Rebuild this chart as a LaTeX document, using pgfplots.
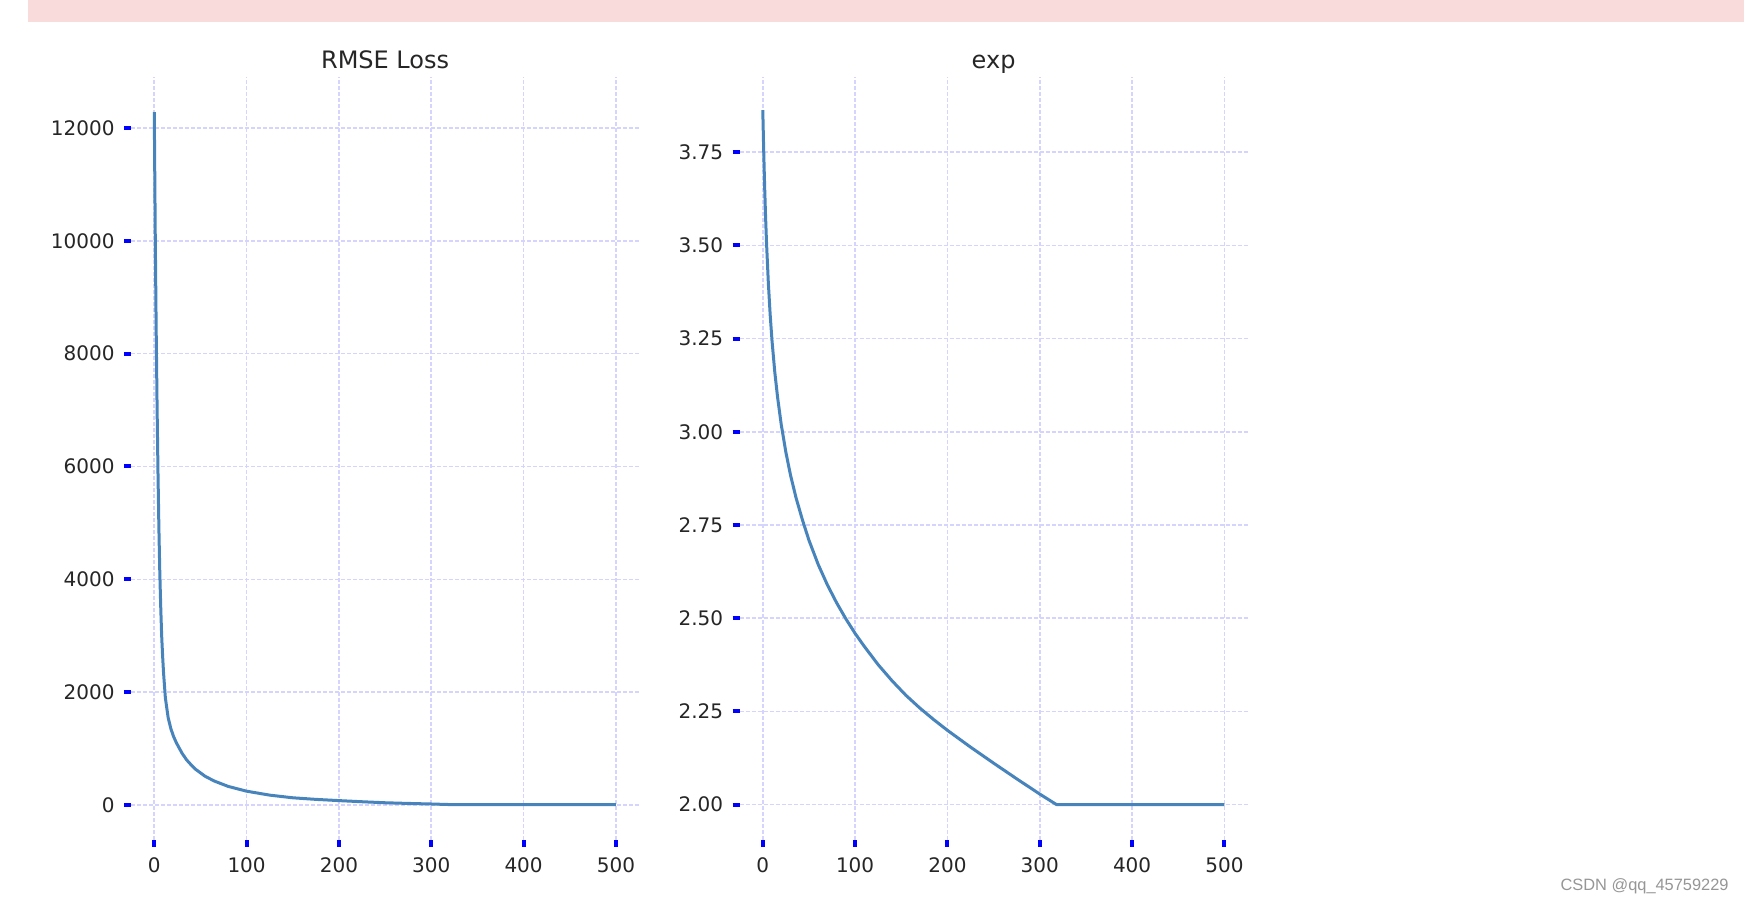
\documentclass[border=0pt]{standalone}
\usepackage{fontspec}
\setmainfont{DejaVu Sans}
\newfontfamily\wmfont{Liberation Sans}
\usepackage{pgfplots}
\pgfplotsset{compat=1.18}

\definecolor{curve}{RGB}{72,132,188}
\definecolor{gridc}{RGB}{212,212,255}
\definecolor{band}{RGB}{249,219,220}
\definecolor{txt}{RGB}{38,38,38}
\definecolor{wm}{RGB}{150,150,150}

\pgfplotsset{mystyle/.style={
  scale only axis, width=253.9pt, height=381.15pt,
  anchor=south west,
  axis line style={draw=none},
  tick pos=left, tick align=outside,
  major tick length=3.5pt,
  major tick style={blue, line width=2pt},
  grid=major,
  major grid style={gridc, line width=0.8pt, dash pattern=on 2pt off 1pt},
  xmin=-25, xmax=525,
  xtick={0,100,...,500},
  scaled ticks=false,
  tick label style={font=\fontsize{10}{12}\selectfont, text=txt},
  /pgf/number format/assume math mode=true,
  /pgf/number format/1000 sep={},
  yticklabel style={anchor=east, inner sep=0pt, xshift=-4.6pt},
  xticklabel style={anchor=north, inner sep=0pt, yshift=-5.3pt},
  title style={font=\fontsize{12}{14}\selectfont, text=txt, at={(0.5,1)}, anchor=base, yshift=-1.4pt},
}}

\begin{document}
\begin{tikzpicture}
\path[use as bounding box, fill=white] (0,0) rectangle (872pt,451pt);
\fill[band] (14pt,440.15pt) rectangle (872pt,451pt);

\begin{axis}[mystyle, at={(65.6pt,31.25pt)}, title={RMSE Loss},
  ymin=-611.5, ymax=12900, ytick={0,2000,...,12000}]
\addplot[curve, line width=1.5pt, mark=none, line join=round] coordinates {
(0,12280) (1,10200) (2,8500) (3,7100) (4,5900) (5,4900) (6,4100) (7,3500) (8,3000)
(9,2650) (10,2350) (12,1900) (15,1550) (18,1350) (21,1210) (24,1100) (30,920) (35,800) (40,710) (45,630)
(55,510) (65,425) (80,330) (100,245) (125,175) (150,128) (175,100) (200,78)
(225,58) (250,40) (275,28) (300,18) (318,9) (330,8) (400,8) (500,8)
};
\end{axis}

\begin{axis}[mystyle, at={(369.85pt,31.25pt)}, title={exp},
  ymin=1.9061, ymax=3.9512, ytick={2,2.25,...,3.75},
  yticklabel={\pgfmathprintnumber[fixed,fixed zerofill,precision=2]{\tick}}]
\addplot[curve, line width=1.5pt, mark=none, line join=round] coordinates {
(0,3.863) (1,3.753) (2,3.658) (3,3.578) (4,3.510) (6,3.400) (8,3.314) (10,3.244)
(13,3.160) (16,3.093) (20,3.019) (25,2.945) (30,2.884) (36,2.823) (43,2.763)
(50,2.709) (60,2.644) (70,2.589) (80,2.541) (90,2.498) (100,2.459) (110,2.424)
(125,2.375) (140,2.332) (155,2.293) (170,2.259) (185,2.228) (200,2.199)
(225,2.154) (250,2.111) (275,2.069) (300,2.028) (318,2.000) (500,2.000)
};
\end{axis}

\node[anchor=base east, text=wm, font=\wmfont\fontsize{8.2}{10}\selectfont, inner sep=0pt] at (864.5pt,5.65pt) {CSDN @qq\_45759229};
\end{tikzpicture}
\end{document}
